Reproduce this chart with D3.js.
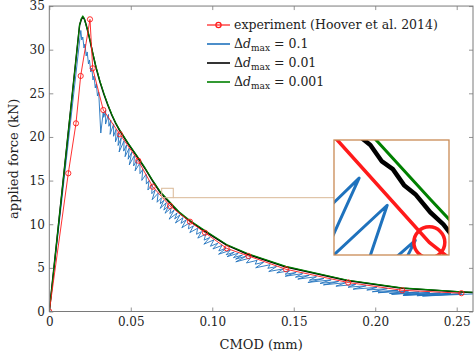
<!DOCTYPE html>
<html><head><meta charset="utf-8">
<script src="https://cdn.jsdelivr.net/npm/d3@7"></script>
<style>
body{margin:0;background:#fff;}
svg{display:block;}
text{font-family:"DejaVu Serif",serif;fill:#222;}
</style>
</head><body>
<svg id="c" width="474" height="357"></svg>
<script>
// ---------------- data ----------------
const xTicks = [0, 0.05, 0.10, 0.15, 0.20, 0.25];
const xTickLabels = ["0", "0.05", "0.10", "0.15", "0.20", "0.25"];
const yTicks = [0, 5, 10, 15, 20, 25, 30, 35];
const yTickLabels = ["0", "5", "10", "15", "20", "25", "30", "35"];
const seriesNames = ["experiment (Hoover et al. 2014)", "0.1", "0.01", "0.001"];

// experiment (Hoover et al. 2014)
const experiment = [
  [0,0],[0.01166,15.84],[0.01638,21.56],[0.01926,26.99],[0.02497,33.48],[0.02663,27.87],
  [0.03313,23.09],[0.04337,20.30],[0.0546,17.28],[0.06344,14.30],[0.07405,12.10],
  [0.08632,10.29],[0.09552,9.03],[0.10883,7.24],[0.12221,6.36],[0.14521,4.84],
  [0.18344,3.32],[0.21656,2.43],[0.25288,2.10]
];

// Δd_max = 0.1
const dmax01 = [
  [0,0],[0.01933,32.20],[0.01994,31.11],[0.02055,31.45],[0.02129,30.19],[0.02190,30.65],
  [0.02264,29.28],[0.02325,29.74],[0.02405,28.36],[0.02466,28.82],[0.02546,27.44],
  [0.02607,27.90],[0.02681,26.53],[0.02742,26.99],[0.02822,25.61],[0.02883,26.07],
  [0.02957,24.69],[0.03031,25.15],[0.03160,20.45],
  [0.0331,22.86],[0.03340,22.25],[0.0346,23.05],[0.03453,21.48],[0.0363,22.58],[0.03659,21.22],
  [0.0378,21.92],[0.03730,20.30],[0.0395,21.50],[0.03943,20.08],[0.0410,20.88],[0.04061,19.45],
  [0.0427,20.45],[0.04220,19.02],[0.0442,19.92],[0.04285,18.28],[0.0459,19.58],[0.04566,18.38],
  [0.0474,19.08],[0.04648,17.74],[0.0491,18.74],[0.04838,17.45],[0.0506,18.25],[0.04908,16.80],
  [0.0523,17.90],[0.05173,16.68],[0.0539,17.38],[0.05266,16.12],[0.0556,17.02],[0.05564,15.80],
  [0.0574,16.30],[0.05676,15.02],[0.0594,15.72],[0.05957,14.60],[0.0612,15.00],[0.06049,13.92],
  [0.0631,14.52],[0.06290,13.50],[0.0650,13.95],[0.06311,12.81],[0.0668,13.56],[0.06616,12.52],
  [0.0688,13.02],[0.06809,12.34],[0.0703,12.74],[0.06806,11.82],[0.0718,12.47],[0.07027,11.62],
  [0.0733,12.12],[0.07102,11.26],[0.0748,11.86],[0.07397,11.22],[0.0766,11.62],[0.07353,10.58],
  [0.0784,11.28],[0.07694,10.61],[0.0802,11.06],[0.07742,10.14],[0.0820,10.74],[0.08080,10.10],
  [0.0840,10.50],[0.08134,9.60],[0.0860,10.15],[0.08535,9.47],[0.0885,9.82],[0.08623,9.04],
  [0.0910,9.54],[0.09034,8.85],[0.0934,9.15],[0.09112,8.41],[0.0960,8.86],[0.09501,8.18],
  [0.0985,8.48],[0.09485,7.71],[0.1010,8.21],[0.09887,7.48],[0.1035,7.83],[0.10040,7.17],
  [0.1060,7.57],[0.10401,6.94],[0.1085,7.24],[0.10387,6.56],[0.1110,7.01],[0.10849,6.50],
  [0.1135,6.80],[0.10905,6.28],[0.1160,6.68],[0.11300,6.17],[0.1185,6.47],[0.11433,6.00],
  [0.1210,6.35],[0.11445,5.69],[0.1235,6.14],[0.12097,5.56],[0.1275,5.86],[0.12637,5.42],
  [0.1315,5.64],[0.12665,5.01],[0.1355,5.36],[0.13409,4.95],[0.1395,5.15],[0.13467,4.58],
  [0.1435,4.88],[0.13961,4.42],[0.1475,4.67],[0.14472,4.27],[0.1515,4.47],[0.14476,4.04],
  [0.1555,4.34],[0.15105,3.93],[0.1595,4.15],[0.15249,3.71],[0.1640,3.99],[0.15959,3.58],
  [0.1685,3.78],[0.15871,3.33],[0.1730,3.63],[0.16614,3.22],[0.1775,3.44],[0.16821,3.05],
  [0.1820,3.30],[0.17588,2.90],[0.1880,3.10],[0.18330,2.78],[0.1945,2.95],[0.18643,2.56],
  [0.2010,2.76],[0.19482,2.46],[0.2075,2.62],[0.19822,2.26],[0.2140,2.44],[0.20173,2.15],
  [0.2205,2.35],[0.20875,2.06],[0.2270,2.24],[0.21004,1.97],[0.2335,2.19],[0.21736,1.92],
  [0.2400,2.12],[0.21702,1.84],[0.2465,2.09],[0.22558,1.81],[0.2530,2.03],[0.22896,1.77],
  [0.2600,2.01]
];

// Δd_max = 0.01
const dmax001 = [
  [0,0],[0.0186,32.83],[0.01975,33.52],[0.02067,33.72],[0.0216,33.48],[0.02252,32.92],
  [0.02374,32.03],[0.02497,31.05],[0.02663,29.59],[0.02865,27.96],[0.03110,26.30],
  [0.03356,24.87],[0.03601,23.60],[0.03847,22.46],[0.04092,21.49],[0.04337,20.68],
  [0.04828,19.25],[0.05460,17.55],[0.05871,16.39],[0.06344,14.95],[0.06791,13.67],
  [0.0690,13.44],[0.0697,13.33],[0.0703,13.16],[0.0709,13.07],[0.0715,12.91],[0.0721,12.83],
  [0.0727,12.67],[0.0733,12.58],[0.0741,12.40],[0.0748,12.28],[0.0755,12.11],
  [0.08018,11.23],[0.08632,10.34],[0.09552,9.19],[0.10883,7.60],[0.12209,6.53],
  [0.14521,5.10],[0.18264,3.55],[0.21638,2.66],[0.25258,2.23],[0.26,2.17]
];

// Δd_max = 0.001
const dmax0001 = [
  [0,0],[0.0186,32.85],[0.0196,33.55],[0.0205,33.87],[0.0213,33.65],[0.0222,33.05],
  [0.02374,32.10],[0.02497,31.13],[0.02663,29.68],[0.02865,28.05],[0.03110,26.39],
  [0.03356,24.96],[0.03601,23.69],[0.03847,22.55],[0.04092,21.58],[0.04337,20.77],
  [0.04828,19.34],[0.05460,17.64],[0.05871,16.48],[0.06344,15.04],[0.06791,13.80],
  [0.0690,13.57],[0.0741,12.53],[0.0755,12.25],[0.08018,11.34],[0.08632,10.44],
  [0.09552,9.28],[0.10883,7.69],[0.12209,6.61],[0.14521,5.17],[0.18264,3.61],
  [0.21638,2.71],[0.25258,2.27],[0.26,2.21]
];

// zoom window shown in the inset (data units) and the spy marker in the main plot
const zoomWindowX = [0.06896, 0.07510];
const zoomWindowY = [11.974, 13.12];
const spyMarkX = [0.06896, 0.07607];
const spyMarkY = [13.04, 14.12];

// ---------------- layout / style ----------------
const svg = d3.select("#c");
const M = {l:49.3, r:473, t:6.05, b:311.5};
const x = d3.scaleLinear().domain([0, 0.26]).range([M.l, M.r]);
const y = d3.scaleLinear().domain([0, 35]).range([M.b, M.t]);
const C = {exp:"#ff1a1a", c01:"#1f72bd", c001:"#000000", c0001:"#008000", frame:"#7a7a7a"};

const defs = svg.append("defs");
defs.append("clipPath").attr("id","clipMain").append("rect")
  .attr("x",M.l).attr("y",M.t).attr("width",M.r-M.l).attr("height",M.b-M.t);

const line = d3.line().x(d=>x(d[0])).y(d=>y(d[1]));

const plot = svg.append("g").attr("clip-path","url(#clipMain)");
plot.append("path").datum(dmax01).attr("d",line).attr("fill","none")
  .attr("stroke",C.c01).attr("stroke-width",0.9).attr("stroke-linejoin","round");
plot.append("path").datum(dmax001).attr("d",line).attr("fill","none")
  .attr("stroke",C.c001).attr("stroke-width",1.5).attr("stroke-linejoin","round");
plot.append("path").datum(dmax0001).attr("d",line).attr("fill","none")
  .attr("stroke",C.c0001).attr("stroke-width",1.1).attr("stroke-linejoin","round");
plot.append("path").datum(experiment).attr("d",line).attr("fill","none")
  .attr("stroke",C.exp).attr("stroke-width",0.9);
plot.selectAll("circle.exp").data(experiment).join("circle").attr("class","exp")
  .attr("cx",d=>x(d[0])).attr("cy",d=>y(d[1])).attr("r",2.6)
  .attr("fill","none").attr("stroke",C.exp).attr("stroke-width",0.9);

// axes (inward ticks on all sides)
const xAxis = d3.axisBottom(x).tickValues(xTicks).tickFormat((d,i)=>xTickLabels[i])
  .tickSizeInner(-4).tickSizeOuter(0).tickPadding(5.5);
const yAxis = d3.axisLeft(y).tickValues(yTicks).tickFormat((d,i)=>yTickLabels[i])
  .tickSizeInner(-4).tickSizeOuter(0).tickPadding(4.5);
const gx = svg.append("g").attr("transform",`translate(0,${M.b})`).call(xAxis);
const gy = svg.append("g").attr("transform",`translate(${M.l},0)`).call(yAxis);
const gxt = svg.append("g").attr("transform",`translate(0,${M.t})`)
  .call(d3.axisTop(x).tickValues(xTicks).tickFormat("").tickSizeInner(-4).tickSizeOuter(0));
const gyr = svg.append("g").attr("transform",`translate(${M.r},0)`)
  .call(d3.axisRight(y).tickValues(yTicks).tickFormat("").tickSizeInner(-4).tickSizeOuter(0));
[gx,gy,gxt,gyr].forEach(g=>{
  g.select(".domain").remove();
  g.selectAll(".tick line").attr("stroke",C.frame).attr("stroke-width",0.8);
  g.selectAll(".tick text").attr("font-family","DejaVu Serif").attr("font-size",12).attr("fill","#222");
});
svg.append("rect").attr("x",M.l).attr("y",M.t).attr("width",M.r-M.l).attr("height",M.b-M.t)
  .attr("fill","none").attr("stroke",C.frame).attr("stroke-width",1);

// axis titles
svg.append("text").attr("x",(M.l+M.r)/2).attr("y",349).attr("text-anchor","middle")
  .attr("font-size",13).text("CMOD (mm)");
svg.append("text").attr("transform",`translate(18,${(M.t+M.b)/2}) rotate(-90)`)
  .attr("text-anchor","middle").attr("font-size",13).text("applied force (kN)");

// legend
const lg = svg.append("g");
const rows = [25, 44, 63, 82];
const legCols = [C.exp, C.c01, C.c001, C.c0001];
rows.forEach((ry,i)=>{
  lg.append("line").attr("x1",207).attr("x2",230).attr("y1",ry).attr("y2",ry)
    .attr("stroke",legCols[i]).attr("stroke-width", i===0?1.2:1.6);
  if(i===0){
    lg.append("circle").attr("cx",218.5).attr("cy",ry).attr("r",2.6)
      .attr("fill","none").attr("stroke",C.exp).attr("stroke-width",1.2);
    lg.append("text").attr("x",234).attr("y",ry+4.3).attr("font-size",12.5).text(seriesNames[0]);
  } else {
    const t = lg.append("text").attr("x",234).attr("y",ry+4.3).attr("font-size",12.5);
    t.append("tspan").text("Δ");
    t.append("tspan").attr("font-style","italic").text("d");
    t.append("tspan").attr("font-size",9).attr("dy",3).text("max");
    t.append("tspan").attr("dy",-3).text(" = " + seriesNames[i]);
  }
});

// spy marker and connector
svg.append("rect").attr("x",x(spyMarkX[0])).attr("y",y(spyMarkY[1]))
  .attr("width",x(spyMarkX[1])-x(spyMarkX[0])).attr("height",y(spyMarkY[0])-y(spyMarkY[1]))
  .attr("fill","none").attr("stroke","#d9b896").attr("stroke-width",1);
const inset = {x:334, y:140, w:115, h:115};
svg.append("line").attr("x1",x(spyMarkX[1])).attr("x2",inset.x)
  .attr("y1",y(spyMarkY[0])).attr("y2",y(spyMarkY[0]))
  .attr("stroke","#d9b896").attr("stroke-width",1);

// inset (magnified view)
defs.append("clipPath").attr("id","clipInset").append("rect")
  .attr("x",inset.x).attr("y",inset.y).attr("width",inset.w).attr("height",inset.h);
const xi = d3.scaleLinear().domain(zoomWindowX).range([inset.x, inset.x+inset.w]);
const yi = d3.scaleLinear().domain(zoomWindowY).range([inset.y+inset.h, inset.y]);
const linei = d3.line().x(d=>xi(d[0])).y(d=>yi(d[1]));
svg.append("rect").attr("x",inset.x).attr("y",inset.y).attr("width",inset.w).attr("height",inset.h)
  .attr("fill","#fff");
const gi = svg.append("g").attr("clip-path","url(#clipInset)");
gi.append("path").datum(dmax01).attr("d",linei).attr("fill","none")
  .attr("stroke",C.c01).attr("stroke-width",3).attr("stroke-linejoin","round");
gi.append("path").datum(dmax001).attr("d",linei).attr("fill","none")
  .attr("stroke",C.c001).attr("stroke-width",4.5).attr("stroke-linejoin","round");
gi.append("path").datum(dmax0001).attr("d",linei).attr("fill","none")
  .attr("stroke",C.c0001).attr("stroke-width",3).attr("stroke-linejoin","round");
gi.append("path").datum(experiment).attr("d",linei).attr("fill","none")
  .attr("stroke",C.exp).attr("stroke-width",3.5);
gi.selectAll("circle").data(experiment).join("circle")
  .attr("cx",d=>xi(d[0])).attr("cy",d=>yi(d[1])).attr("r",15.5)
  .attr("fill","none").attr("stroke",C.exp).attr("stroke-width",3.5);
svg.append("rect").attr("x",inset.x).attr("y",inset.y).attr("width",inset.w).attr("height",inset.h)
  .attr("fill","none").attr("stroke","#c98a55").attr("stroke-width",1.3);
</script>
</body></html>
